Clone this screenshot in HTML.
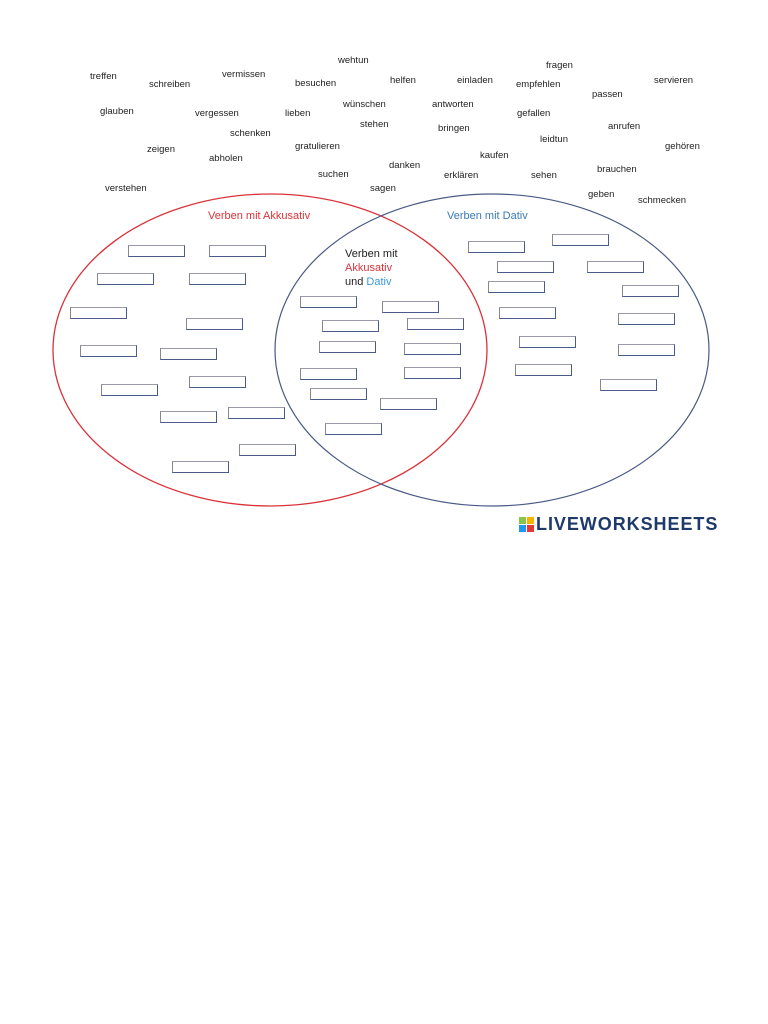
<!DOCTYPE html>
<html><head><meta charset="utf-8"><style>
body{margin:0;width:768px;height:1024px;background:#fff;position:relative;overflow:hidden;font-family:"Liberation Sans",sans-serif}
.w{position:absolute;font-size:9.5px;color:#222;line-height:12px;white-space:nowrap}
.b{position:absolute;width:57px;height:12px;border:1px solid #4a5a8a;box-sizing:border-box;border-left-color:#888;border-top-color:#99a}
.t{position:absolute;font-size:11px;line-height:14px;white-space:nowrap}
</style></head><body>
<svg width="768" height="1024" style="position:absolute;left:0;top:0">
<ellipse cx="270" cy="350" rx="217" ry="156" fill="none" stroke="#d9333a" stroke-width="1.3"/>
<ellipse cx="492" cy="350" rx="217" ry="156" fill="none" stroke="#4a5a85" stroke-width="1.2"/>
<rect x="519" y="517" width="7" height="7" fill="#8bc34a"/><rect x="527" y="517" width="7" height="7" fill="#f4b400"/>
<rect x="519" y="525" width="7" height="7" fill="#2196f3"/><rect x="527" y="525" width="7" height="7" fill="#e53935"/>
</svg>
<div class="t" style="left:536px;top:514px;font-size:18px;line-height:20px;font-weight:bold;color:#1d3a6b;letter-spacing:0.95px">LIVEWORKSHEETS</div>
<div class="t" style="left:208px;top:209px;color:#d9333a">Verben mit Akkusativ</div>
<div class="t" style="left:447px;top:209px;color:#3a7ab5">Verben mit Dativ</div>
<div class="t" style="left:345px;top:247px;color:#222">Verben mit</div>
<div class="t" style="left:345px;top:261px;color:#d9333a">Akkusativ</div>
<div class="t" style="left:345px;top:275px;color:#222">und <span style="color:#3a9ad5">Dativ</span></div>
<div class="w" style="left:338px;top:55px">wehtun</div>
<div class="w" style="left:546px;top:60px">fragen</div>
<div class="w" style="left:90px;top:71px">treffen</div>
<div class="w" style="left:149px;top:79px">schreiben</div>
<div class="w" style="left:222px;top:69px">vermissen</div>
<div class="w" style="left:295px;top:78px">besuchen</div>
<div class="w" style="left:390px;top:75px">helfen</div>
<div class="w" style="left:457px;top:75px">einladen</div>
<div class="w" style="left:516px;top:79px">empfehlen</div>
<div class="w" style="left:592px;top:89px">passen</div>
<div class="w" style="left:654px;top:75px">servieren</div>
<div class="w" style="left:100px;top:106px">glauben</div>
<div class="w" style="left:195px;top:108px">vergessen</div>
<div class="w" style="left:285px;top:108px">lieben</div>
<div class="w" style="left:343px;top:99px">wünschen</div>
<div class="w" style="left:432px;top:99px">antworten</div>
<div class="w" style="left:517px;top:108px">gefallen</div>
<div class="w" style="left:360px;top:119px">stehen</div>
<div class="w" style="left:438px;top:123px">bringen</div>
<div class="w" style="left:608px;top:121px">anrufen</div>
<div class="w" style="left:230px;top:128px">schenken</div>
<div class="w" style="left:540px;top:134px">leidtun</div>
<div class="w" style="left:665px;top:141px">gehören</div>
<div class="w" style="left:147px;top:144px">zeigen</div>
<div class="w" style="left:295px;top:141px">gratulieren</div>
<div class="w" style="left:209px;top:153px">abholen</div>
<div class="w" style="left:480px;top:150px">kaufen</div>
<div class="w" style="left:389px;top:160px">danken</div>
<div class="w" style="left:597px;top:164px">brauchen</div>
<div class="w" style="left:318px;top:169px">suchen</div>
<div class="w" style="left:444px;top:170px">erklären</div>
<div class="w" style="left:531px;top:170px">sehen</div>
<div class="w" style="left:105px;top:183px">verstehen</div>
<div class="w" style="left:370px;top:183px">sagen</div>
<div class="w" style="left:588px;top:189px">geben</div>
<div class="w" style="left:638px;top:195px">schmecken</div>
<div class="b" style="left:128px;top:245px"></div><div class="b" style="left:209px;top:245px"></div>
<div class="b" style="left:97px;top:273px"></div><div class="b" style="left:189px;top:273px"></div>
<div class="b" style="left:70px;top:307px"></div><div class="b" style="left:186px;top:318px"></div>
<div class="b" style="left:80px;top:345px"></div><div class="b" style="left:160px;top:348px"></div>
<div class="b" style="left:101px;top:384px"></div><div class="b" style="left:189px;top:376px"></div>
<div class="b" style="left:160px;top:411px"></div><div class="b" style="left:228px;top:407px"></div>
<div class="b" style="left:239px;top:444px"></div><div class="b" style="left:172px;top:461px"></div>
<div class="b" style="left:300px;top:296px"></div><div class="b" style="left:382px;top:301px"></div>
<div class="b" style="left:322px;top:320px"></div><div class="b" style="left:407px;top:318px"></div>
<div class="b" style="left:319px;top:341px"></div><div class="b" style="left:404px;top:343px"></div>
<div class="b" style="left:300px;top:368px"></div><div class="b" style="left:404px;top:367px"></div>
<div class="b" style="left:310px;top:388px"></div><div class="b" style="left:380px;top:398px"></div>
<div class="b" style="left:325px;top:423px"></div>
<div class="b" style="left:468px;top:241px"></div><div class="b" style="left:552px;top:234px"></div>
<div class="b" style="left:497px;top:261px"></div><div class="b" style="left:587px;top:261px"></div>
<div class="b" style="left:488px;top:281px"></div><div class="b" style="left:622px;top:285px"></div>
<div class="b" style="left:499px;top:307px"></div><div class="b" style="left:618px;top:313px"></div>
<div class="b" style="left:519px;top:336px"></div><div class="b" style="left:618px;top:344px"></div>
<div class="b" style="left:515px;top:364px"></div><div class="b" style="left:600px;top:379px"></div>
</body></html>
